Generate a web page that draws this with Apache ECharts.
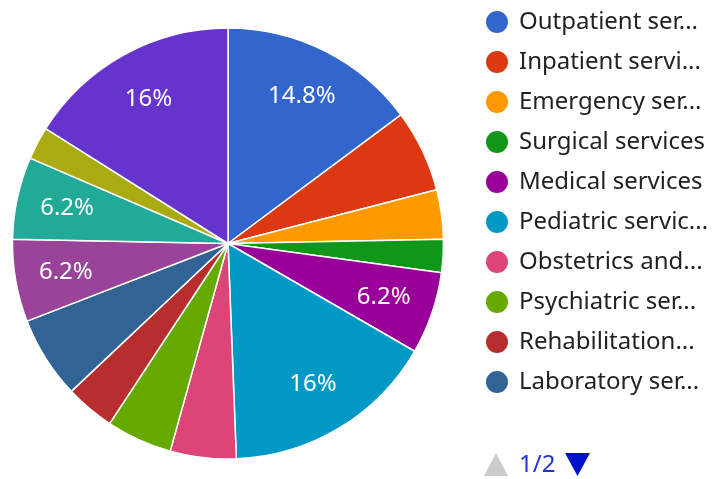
<!DOCTYPE html>
<html>
<head>
<meta charset="utf-8">
<script src="https://cdn.jsdelivr.net/npm/echarts@6/dist/echarts.min.js"></script>
<style>
html,body{margin:0;padding:0;background:#fff;}
#chart{width:712px;height:479px;}
</style>
</head>
<body>
<div id="chart"></div>
<script>
const categories = [
  "Outpatient services", "Inpatient services", "Emergency services", "Surgical services",
  "Medical services", "Pediatric services", "Obstetrics and gynecology", "Psychiatric services",
  "Rehabilitation services", "Laboratory services", "Radiology services", "Pharmacy services",
  "Dental services", "Other services"
];
const values = [12, 5, 3, 2, 5, 13, 4, 4, 3, 5, 5, 5, 2, 13];
const colors = ["#3366cc", "#dc3912", "#ff9900", "#109618", "#990099", "#0099c6", "#dd4477",
  "#66aa00", "#b82e2e", "#316395", "#994499", "#22aa99", "#aaaa11", "#6633cc"];
const labeled = [true, false, false, false, true, true, false, false, false, false, true, true, false, true];

const total = values.reduce((a, b) => a + b, 0);
const fmt = v => (Math.round(v / total * 1000) / 10) + "%";

const chart = echarts.init(document.getElementById('chart'), null, {renderer: 'canvas'});
const font = "'Noto Sans', sans-serif";
const CX = 228, CY = 243.5, R = 215.5;
const PAGE_SIZE = 10;
const LEGEND_TEXT_WIDTH = 191;
const pageCount = Math.ceil(categories.length / PAGE_SIZE);
let page = 0;

const measureCtx = document.createElement('canvas').getContext('2d');
measureCtx.font = "24px 'Noto Sans', sans-serif";
function truncate(name) {
  if (measureCtx.measureText(name).width <= LEGEND_TEXT_WIDTH) return name;
  for (let n = name.length - 1; n > 0; n--) {
    const t = name.slice(0, n).replace(/\s+$/, '') + '...';
    if (measureCtx.measureText(t).width <= LEGEND_TEXT_WIDTH) return t;
  }
  return '...';
}

function pagerGraphic() {
  const activeColor = '#0011cc', inactiveColor = '#cccccc';
  return [
    {
      id: 'pgUp', type: 'polygon', cursor: page > 0 ? 'pointer' : 'default',
      shape: {points: [[484, 476], [496, 453], [508, 476]]},
      style: {fill: page > 0 ? activeColor : inactiveColor},
      onclick: () => { if (page > 0) { page--; render(); } }
    },
    {
      id: 'pgText', type: 'text', left: 519, top: 453,
      style: {text: (page + 1) + '/' + pageCount, fill: '#2233cc', font: "24px 'Noto Sans', sans-serif"}
    },
    {
      id: 'pgDown', type: 'polygon', cursor: page < pageCount - 1 ? 'pointer' : 'default',
      shape: {points: [[565, 453], [590, 453], [577.5, 476]]},
      style: {fill: page < pageCount - 1 ? activeColor : inactiveColor},
      onclick: () => { if (page < pageCount - 1) { page++; render(); } }
    }
  ];
}

function render() {
  chart.setOption({
    legend: {data: categories.slice(page * PAGE_SIZE, (page + 1) * PAGE_SIZE)},
    graphic: pagerGraphic()
  });
}

chart.setOption({
  animation: false,
  color: colors,
  legend: {
    type: 'plain',
    orient: 'vertical',
    left: 484,
    top: 9,
    padding: 0,
    itemWidth: 24,
    itemHeight: 24,
    itemGap: 14,
    icon: 'circle',
    formatter: truncate,
    textStyle: {
      color: '#222222', fontSize: 24, fontFamily: font, lineHeight: 24,
      padding: [0, 0, 0, 5]
    },
    data: categories.slice(0, PAGE_SIZE)
  },
  graphic: pagerGraphic(),
  series: [
    {
      type: 'pie',
      center: [CX, CY],
      radius: [0, R],
      startAngle: 90,
      clockwise: true,
      avoidLabelOverlap: false,
      label: {show: false},
      labelLine: {show: false},
      itemStyle: {borderColor: '#ffffff', borderWidth: 1.5},
      emphasis: {disabled: true},
      data: categories.map((n, i) => ({name: n, value: values[i]}))
    },
    {
      type: 'pie',
      center: [CX, CY],
      radius: [R / 2, R],
      startAngle: 90,
      clockwise: true,
      silent: true,
      z: 5,
      avoidLabelOverlap: false,
      legendHoverLink: false,
      itemStyle: {color: 'rgba(0,0,0,0)', borderWidth: 0},
      labelLine: {show: false},
      emphasis: {disabled: true},
      label: {
        position: 'inside',
        color: '#ffffff',
        fontSize: 24,
        fontFamily: font,
        formatter: p => fmt(p.value)
      },
      data: categories.map((n, i) => ({name: n, value: values[i], label: {show: labeled[i]}}))
    }
  ]
});
</script>
</body>
</html>
